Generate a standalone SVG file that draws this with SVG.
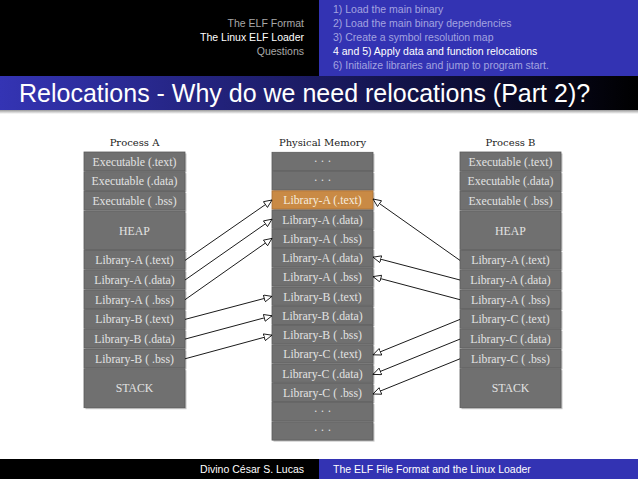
<svg xmlns="http://www.w3.org/2000/svg" width="638" height="479" viewBox="0 0 638 479">
<defs>
<linearGradient id="tg" x1="0" y1="0" x2="1" y2="0">
<stop offset="0" stop-color="#3434b4"/>
<stop offset="0.6" stop-color="#151550"/>
<stop offset="1" stop-color="#000000"/>
</linearGradient>
<linearGradient id="sh" x1="0" y1="0" x2="0" y2="1">
<stop offset="0" stop-color="#9a9a9a"/>
<stop offset="1" stop-color="#ffffff"/>
</linearGradient>
<marker id="ah" markerUnits="userSpaceOnUse" markerWidth="11" markerHeight="10" refX="8.5" refY="4" orient="auto">
<path d="M0.5,0.5 L8.5,4 L0.5,7.5 z" fill="#ffffff" stroke="#000000" stroke-width="0.8"/>
</marker>
</defs>
<style>
.hd{font-family:"Liberation Sans",Arial,sans-serif;font-size:10.5px}
.ttl{font-family:"Liberation Sans",Arial,sans-serif;font-size:25px;fill:#ffffff}
.col{font-family:"DejaVu Serif","Liberation Serif",serif;font-size:10px;fill:#222222;text-anchor:middle}
.bx{fill:#707070;stroke:#5a5a5a;stroke-width:0.8}
.or{fill:#c98a45;stroke:#a86c30;stroke-width:0.8}
.sd{fill:#c4c4c4}
.bt{font-family:"Liberation Serif","Times New Roman",serif;font-size:11.8px;fill:#e2e2e2;text-anchor:middle}
.ot{font-family:"Liberation Serif","Times New Roman",serif;font-size:11.8px;fill:#f6ecdf;text-anchor:middle}
.cn{stroke:#000000;stroke-width:0.9;fill:none;marker-end:url(#ah)}
</style>
<rect x="0" y="0" width="638" height="479" fill="#ffffff"/>
<g id="header">
<rect x="0" y="0" width="319" height="76" fill="#000000"/>
<rect x="319" y="0" width="319" height="76" fill="#3333b3"/>
<text class="hd" x="304" y="26.5" text-anchor="end" fill="#a8a8a8">The ELF Format</text>
<text class="hd" x="304" y="40.5" text-anchor="end" fill="#ffffff">The Linux ELF Loader</text>
<text class="hd" x="304" y="54.5" text-anchor="end" fill="#a8a8a8">Questions</text>
<text class="hd" x="333" y="13" fill="#a3a3e0">1) Load the main binary</text>
<text class="hd" x="333" y="27" fill="#a3a3e0">2) Load the main binary dependencies</text>
<text class="hd" x="333" y="41" fill="#a3a3e0">3) Create a symbol resolution map</text>
<text class="hd" x="333" y="55" fill="#ffffff">4 and 5) Apply data and function relocations</text>
<text class="hd" x="333" y="69" fill="#a3a3e0">6) Initialize libraries and jump to program start.</text>
</g>
<g id="title">
<rect x="0" y="76" width="638" height="34" fill="url(#tg)"/>
<rect x="0" y="110" width="638" height="4" fill="url(#sh)"/>
<text class="ttl" x="19" y="102">Relocations - Why do we need relocations (Part 2)?</text>
</g>
<g id="footer">
<rect x="0" y="459" width="319" height="20" fill="#000000"/>
<rect x="319" y="459" width="319" height="20" fill="#3333b3"/>
<text class="hd" x="304" y="472.5" text-anchor="end" fill="#ffffff">Divino César S. Lucas</text>
<text class="hd" x="333" y="472.5" fill="#ffffff">The ELF File Format and the Linux Loader</text>
</g>
<g id="processA">
<text class="col" x="134.5" y="145.5">Process A</text>
<g id="A-exe-text"><rect class="sd" x="85.5" y="153.5" width="101" height="18.7"/><rect class="bx" x="84" y="152" width="101" height="18.7"/><text class="bt" x="134.5" y="165.6">Executable (.text)</text></g>
<g id="A-exe-data"><rect class="sd" x="85.5" y="173.2" width="101" height="18.7"/><rect class="bx" x="84" y="171.7" width="101" height="18.7"/><text class="bt" x="134.5" y="185.3">Executable (.data)</text></g>
<g id="A-exe-bss"><rect class="sd" x="85.5" y="192.9" width="101" height="18.7"/><rect class="bx" x="84" y="191.4" width="101" height="18.7"/><text class="bt" x="134.5" y="205">Executable ( .bss)</text></g>
<g id="A-heap"><rect class="sd" x="85.5" y="212.6" width="101" height="38.4"/><rect class="bx" x="84" y="211.1" width="101" height="38.4"/><text class="bt" x="134.5" y="234.6">HEAP</text></g>
<g id="A-libA-text"><rect class="sd" x="85.5" y="252" width="101" height="18.7"/><rect class="bx" x="84" y="250.5" width="101" height="18.7"/><text class="bt" x="134.5" y="264.1">Library-A (.text)</text></g>
<g id="A-libA-data"><rect class="sd" x="85.5" y="271.7" width="101" height="18.7"/><rect class="bx" x="84" y="270.2" width="101" height="18.7"/><text class="bt" x="134.5" y="283.8">Library-A (.data)</text></g>
<g id="A-libA-bss"><rect class="sd" x="85.5" y="291.4" width="101" height="18.7"/><rect class="bx" x="84" y="289.9" width="101" height="18.7"/><text class="bt" x="134.5" y="303.5">Library-A ( .bss)</text></g>
<g id="A-libB-text"><rect class="sd" x="85.5" y="311.1" width="101" height="18.7"/><rect class="bx" x="84" y="309.6" width="101" height="18.7"/><text class="bt" x="134.5" y="323.2">Library-B (.text)</text></g>
<g id="A-libB-data"><rect class="sd" x="85.5" y="330.8" width="101" height="18.7"/><rect class="bx" x="84" y="329.3" width="101" height="18.7"/><text class="bt" x="134.5" y="342.9">Library-B (.data)</text></g>
<g id="A-libB-bss"><rect class="sd" x="85.5" y="350.5" width="101" height="18.7"/><rect class="bx" x="84" y="349" width="101" height="18.7"/><text class="bt" x="134.5" y="362.6">Library-B ( .bss)</text></g>
<g id="A-stack"><rect class="sd" x="85.5" y="370.2" width="101" height="39"/><rect class="bx" x="84" y="368.7" width="101" height="39"/><text class="bt" x="134.5" y="392.2">STACK</text></g>
</g>
<g id="physical">
<text class="col" x="322.5" y="145.5">Physical Memory</text>
<g id="P-0"><rect class="sd" x="273.5" y="153.8" width="101" height="18.3"/><rect class="bx" x="272" y="152.3" width="101" height="18.3"/><text class="bt" x="322.5" y="164.7">· · ·</text></g>
<g id="P-1"><rect class="sd" x="273.5" y="173.05" width="101" height="18.3"/><rect class="bx" x="272" y="171.55" width="101" height="18.3"/><text class="bt" x="322.5" y="184">· · ·</text></g>
<g id="P-libA-text"><rect class="sd" x="273.5" y="192.3" width="101" height="18.3"/><rect class="or" x="272" y="190.8" width="101" height="18.3"/><text class="ot" x="322.5" y="204.2">Library-A (.text)</text></g>
<g id="P-libA-data"><rect class="sd" x="273.5" y="211.55" width="101" height="18.3"/><rect class="bx" x="272" y="210.05" width="101" height="18.3"/><text class="bt" x="322.5" y="223.5">Library-A (.data)</text></g>
<g id="P-libA-bss"><rect class="sd" x="273.5" y="230.8" width="101" height="18.3"/><rect class="bx" x="272" y="229.3" width="101" height="18.3"/><text class="bt" x="322.5" y="242.7">Library-A ( .bss)</text></g>
<g id="P-libA-data2"><rect class="sd" x="273.5" y="250.05" width="101" height="18.3"/><rect class="bx" x="272" y="248.55" width="101" height="18.3"/><text class="bt" x="322.5" y="262">Library-A (.data)</text></g>
<g id="P-libA-bss2"><rect class="sd" x="273.5" y="269.3" width="101" height="18.3"/><rect class="bx" x="272" y="267.8" width="101" height="18.3"/><text class="bt" x="322.5" y="281.2">Library-A ( .bss)</text></g>
<g id="P-libB-text"><rect class="sd" x="273.5" y="288.55" width="101" height="18.3"/><rect class="bx" x="272" y="287.05" width="101" height="18.3"/><text class="bt" x="322.5" y="300.5">Library-B (.text)</text></g>
<g id="P-libB-data"><rect class="sd" x="273.5" y="307.8" width="101" height="18.3"/><rect class="bx" x="272" y="306.3" width="101" height="18.3"/><text class="bt" x="322.5" y="319.7">Library-B (.data)</text></g>
<g id="P-libB-bss"><rect class="sd" x="273.5" y="327.05" width="101" height="18.3"/><rect class="bx" x="272" y="325.55" width="101" height="18.3"/><text class="bt" x="322.5" y="339">Library-B ( .bss)</text></g>
<g id="P-libC-text"><rect class="sd" x="273.5" y="346.3" width="101" height="18.3"/><rect class="bx" x="272" y="344.8" width="101" height="18.3"/><text class="bt" x="322.5" y="358.2">Library-C (.text)</text></g>
<g id="P-libC-data"><rect class="sd" x="273.5" y="365.55" width="101" height="18.3"/><rect class="bx" x="272" y="364.05" width="101" height="18.3"/><text class="bt" x="322.5" y="377.5">Library-C (.data)</text></g>
<g id="P-libC-bss"><rect class="sd" x="273.5" y="384.8" width="101" height="18.3"/><rect class="bx" x="272" y="383.3" width="101" height="18.3"/><text class="bt" x="322.5" y="396.7">Library-C ( .bss)</text></g>
<g id="P-13"><rect class="sd" x="273.5" y="404.05" width="101" height="18.3"/><rect class="bx" x="272" y="402.55" width="101" height="18.3"/><text class="bt" x="322.5" y="415">· · ·</text></g>
<g id="P-14"><rect class="sd" x="273.5" y="423.3" width="101" height="18.3"/><rect class="bx" x="272" y="421.8" width="101" height="18.3"/><text class="bt" x="322.5" y="434.2">· · ·</text></g>
</g>
<g id="processB">
<text class="col" x="510.5" y="145.5">Process B</text>
<g id="B-exe-text"><rect class="sd" x="461.5" y="153.5" width="101" height="18.7"/><rect class="bx" x="460" y="152" width="101" height="18.7"/><text class="bt" x="510.5" y="165.6">Executable (.text)</text></g>
<g id="B-exe-data"><rect class="sd" x="461.5" y="173.2" width="101" height="18.7"/><rect class="bx" x="460" y="171.7" width="101" height="18.7"/><text class="bt" x="510.5" y="185.3">Executable (.data)</text></g>
<g id="B-exe-bss"><rect class="sd" x="461.5" y="192.9" width="101" height="18.7"/><rect class="bx" x="460" y="191.4" width="101" height="18.7"/><text class="bt" x="510.5" y="205">Executable ( .bss)</text></g>
<g id="B-heap"><rect class="sd" x="461.5" y="212.6" width="101" height="38.4"/><rect class="bx" x="460" y="211.1" width="101" height="38.4"/><text class="bt" x="510.5" y="234.6">HEAP</text></g>
<g id="B-libA-text"><rect class="sd" x="461.5" y="252" width="101" height="18.7"/><rect class="bx" x="460" y="250.5" width="101" height="18.7"/><text class="bt" x="510.5" y="264.1">Library-A (.text)</text></g>
<g id="B-libA-data"><rect class="sd" x="461.5" y="271.7" width="101" height="18.7"/><rect class="bx" x="460" y="270.2" width="101" height="18.7"/><text class="bt" x="510.5" y="283.8">Library-A (.data)</text></g>
<g id="B-libA-bss"><rect class="sd" x="461.5" y="291.4" width="101" height="18.7"/><rect class="bx" x="460" y="289.9" width="101" height="18.7"/><text class="bt" x="510.5" y="303.5">Library-A ( .bss)</text></g>
<g id="B-libC-text"><rect class="sd" x="461.5" y="311.1" width="101" height="18.7"/><rect class="bx" x="460" y="309.6" width="101" height="18.7"/><text class="bt" x="510.5" y="323.2">Library-C (.text)</text></g>
<g id="B-libC-data"><rect class="sd" x="461.5" y="330.8" width="101" height="18.7"/><rect class="bx" x="460" y="329.3" width="101" height="18.7"/><text class="bt" x="510.5" y="342.9">Library-C (.data)</text></g>
<g id="B-libC-bss"><rect class="sd" x="461.5" y="350.5" width="101" height="18.7"/><rect class="bx" x="460" y="349" width="101" height="18.7"/><text class="bt" x="510.5" y="362.6">Library-C ( .bss)</text></g>
<g id="B-stack"><rect class="sd" x="461.5" y="370.2" width="101" height="39"/><rect class="bx" x="460" y="368.7" width="101" height="39"/><text class="bt" x="510.5" y="392.2">STACK</text></g>
</g>
<g id="connectors">
<line class="cn" x1="185" y1="260.4" x2="272" y2="200"/>
<line class="cn" x1="185" y1="280" x2="272" y2="219.2"/>
<line class="cn" x1="185" y1="299.7" x2="272" y2="238.4"/>
<line class="cn" x1="185" y1="319.4" x2="272" y2="296.4"/>
<line class="cn" x1="185" y1="339.1" x2="272" y2="315.8"/>
<line class="cn" x1="185" y1="358.8" x2="272" y2="335.2"/>
<line class="cn" x1="460" y1="260.4" x2="373" y2="199"/>
<line class="cn" x1="460" y1="280" x2="373" y2="257.2"/>
<line class="cn" x1="460" y1="299.7" x2="373" y2="276.6"/>
<line class="cn" x1="460" y1="319.4" x2="373" y2="354.8"/>
<line class="cn" x1="460" y1="339.1" x2="373" y2="374.4"/>
<line class="cn" x1="460" y1="358.8" x2="373" y2="394"/>
</g>
</svg>
